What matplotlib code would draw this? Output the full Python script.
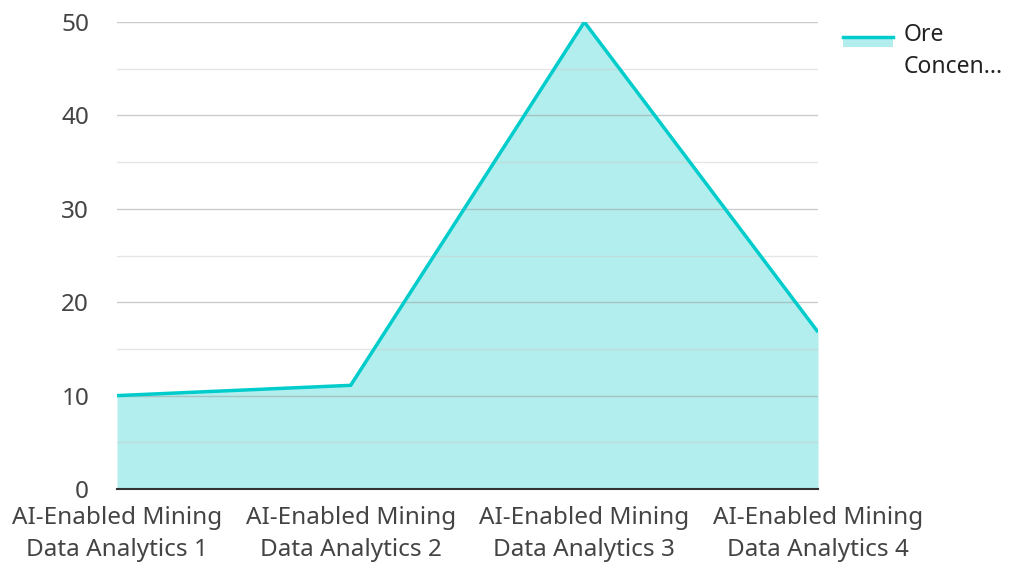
import numpy as np
import matplotlib.pyplot as plt
from matplotlib.lines import Line2D
from matplotlib.patches import Patch, Rectangle
from matplotlib.legend_handler import HandlerBase

plt.rcParams['font.family'] = ['Noto Sans', 'DejaVu Sans']

categories = ['AI-Enabled Mining\nData Analytics 1', 'AI-Enabled Mining\nData Analytics 2',
              'AI-Enabled Mining\nData Analytics 3', 'AI-Enabled Mining\nData Analytics 4']
ore = [10, 11.1, 50, 16.8]

line_col = '#00cccc'
fill_col = '#b2eeee'


class AreaHandler(HandlerBase):
    # line on top of a filled box, next to the first text line
    def create_artists(self, legend, orig, xd, yd, w, h, fs, trans):
        top = yd + h / 2 + 0.7 * fs
        box = Rectangle((xd, top - 0.45 * fs), w, 0.45 * fs, facecolor=fill_col,
                        edgecolor='none', transform=trans)
        ln = Line2D([xd, xd + w], [top, top], color=line_col, lw=2.5, transform=trans)
        return [box, ln]


fig = plt.figure(figsize=(10.1, 5.63), dpi=100)
ax = fig.add_axes([117/1010, 1 - 489/563, (818-117)/1010, (489-22)/563])

x = np.arange(len(categories))
ax.fill_between(x, ore, 0, color=fill_col, lw=0, zorder=1)
ax.plot(x, ore, color=line_col, lw=2.5, zorder=3, solid_capstyle='butt')

ax.set_xlim(0, 3)
ax.set_ylim(0, 50)
ax.set_yticks([0, 10, 20, 30, 40, 50])
ax.set_yticks(np.arange(5, 50, 10), minor=True)
ax.grid(which='major', axis='y', color='#999999', alpha=0.5, lw=1, zorder=2)
ax.grid(which='minor', axis='y', color='#cccccc', alpha=0.5, lw=1, zorder=2)
ax.set_axisbelow(False)

ax.set_xticks(x)
ax.set_xticklabels(categories, linespacing=1.45)
ax.tick_params(axis='both', which='both', length=0, labelsize=17.5, colors='#444444')
ax.tick_params(axis='y', pad=20)
ax.tick_params(axis='x', pad=12)

for s in ['top', 'right', 'left']:
    ax.spines[s].set_visible(False)
ax.spines['bottom'].set_color('#333333')
ax.spines['bottom'].set_linewidth(1.5)
ax.spines['bottom'].set_zorder(4)

leg = fig.legend([Patch()], ['Ore\nConcen...'], loc='upper left',
                 handler_map={Patch: AreaHandler()},
                 bbox_to_anchor=(822/1010, 1 - 2/563), frameon=False,
                 fontsize=16.5, handlelength=2.2, handleheight=0.6,
                 handletextpad=0.45)
for t in leg.get_texts():
    t.set_color('#222222')
    t.set_linespacing(1.45)

fig.savefig('out.png', dpi=100)
